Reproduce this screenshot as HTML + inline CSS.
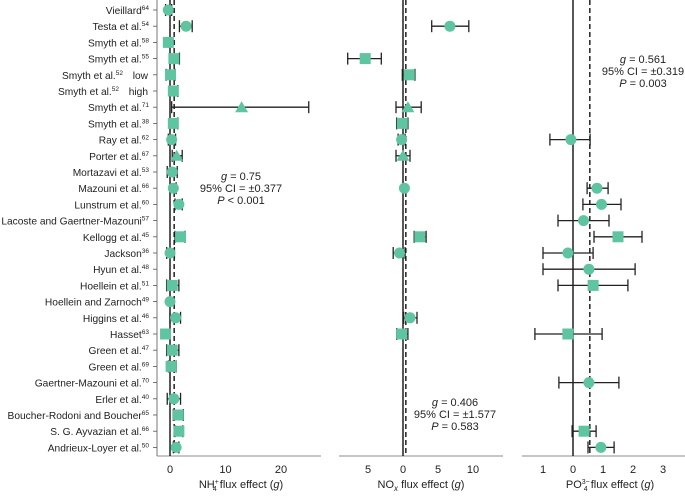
<!DOCTYPE html>
<html><head><meta charset="utf-8"><style>
body{margin:0;background:#fff;}
svg text{font-family:"Liberation Sans",sans-serif;fill:#222;}
</style></head><body>
<svg id="c" width="685" height="491" xmlns="http://www.w3.org/2000/svg"></svg>
<script>
const studies=["Vieillard|64","Testa et al.|54","Smyth et al.|58","Smyth et al.|55","Smyth et al.|52|low","Smyth et al.|52|high","Smyth et al.|71","Smyth et al.|38","Ray et al.|62","Porter et al.|67","Mortazavi et al.|53","Mazouni et al.|66","Lunstrum et al.|60","Lacoste and Gaertner-Mazouni|57","Kellogg et al.|45","Jackson|36","Hyun et al.|48","Hoellein et al.|51","Hoellein and Zarnoch|49","Higgins et al.|46","Hasset|63","Green et al.|47","Green et al.|69","Gaertner-Mazouni et al.|70","Erler et al.|40","Boucher-Rodoni and Boucher|65","S. G. Ayvazian et al.|66","Andrieux-Loyer et al.|50"];
const shapes=["c","c","s","s","s","s","t","s","c","t","c","c","c","c","s","c","c","s","c","c","s","s","s","c","c","s","s","c"];
const nhVal=[-0.3,2.9,-0.3,0.7,0.1,0.6,12.9,0.6,0.3,1.2,0.4,0.6,1.6,null,1.9,0,null,0.4,0,1.0,-0.8,0.4,0.2,null,0.7,1.5,1.6,1.1];
const nhLo=[-0.8,1.7,null,0,-0.7,0,0.3,0,-0.3,0.4,-0.5,0,0.9,null,0.9,-0.6,null,-0.6,null,0,null,-0.6,-0.3,null,-0.5,0.6,0.9,0.6];
const nhHi=[0.3,4.0,null,1.7,0.9,1.4,25.0,1.4,1.0,2.2,1.3,1.1,2.2,null,2.7,0.8,null,1.6,null,1.9,null,1.6,1.1,null,1.9,2.4,2.3,1.6];
const noVal=[null,6.7,null,-5.4,0.9,null,0.7,-0.1,-0.2,0,null,0.2,null,null,2.4,-0.5,null,null,null,1.0,-0.2,null,null,null,null,null,null,null];
const noLo=[null,4.1,null,-7.9,-0.1,null,-1,-0.9,-0.7,-1,null,null,null,null,1.6,-1.4,null,null,null,0.1,-0.9,null,null,null,null,null,null,null];
const noHi=[null,9.4,null,-3.1,1.7,null,2.6,0.7,0.3,1,null,null,null,null,3.3,0.3,null,null,null,2.0,0.7,null,null,null,null,null,null,null];
const poVal=[null,null,null,null,null,null,null,null,-0.07,null,null,0.8,0.95,0.35,1.5,-0.17,0.53,0.67,null,null,-0.17,null,null,0.53,null,null,0.37,0.93];
const poLo=[null,null,null,null,null,null,null,null,-0.77,null,null,0.47,0.33,-0.5,0.7,-1.0,-1.0,-0.5,null,null,-1.27,null,null,-0.47,null,null,-0.03,0.5];
const poHi=[null,null,null,null,null,null,null,null,0.57,null,null,1.17,1.6,1.2,2.3,0.67,2.07,1.83,null,null,0.97,null,null,1.53,null,null,0.77,1.37];
const nhTicks=[0,10,20], noTicks=[-5,0,5,10], poTicks=[-1,0,1,2,3];
const pooled=[0.75,0.406,0.561];

const svg=document.getElementById('c');const NS="http://www.w3.org/2000/svg";
function mk(t,a,p){const e=document.createElementNS(NS,t);for(const k in a)e.setAttribute(k,a[k]);(p||svg).appendChild(e);return e;}
const C="#5fc4a0";
function rowY(i){return 10+i*16.2;}
const axisY=456;
studies.forEach((s,i)=>{const p=s.split('|');const y=rowY(i);
 const t=mk('text',{x:p[2]?(p[2]==='low'?123:119):149,y:y+4,'text-anchor':'end','font-size':'10.2'});
 
 
 t.textContent=p[0];const sp=mk('tspan',{dy:-4,'font-size':'6.5'},t);sp.textContent=p[1];
 if(p[2]){const q=mk('text',{x:148,y:y+4,'text-anchor':'end','font-size':'10.2'});q.textContent=p[2];}
 mk('line',{x1:153,x2:157,y1:y,y2:y,stroke:'#555','stroke-width':0.8});
});
mk('line',{x1:157,x2:157,y1:0,y2:axisY,stroke:'#555','stroke-width':0.8});
const panels=[
 {x0:170,k:5.55,a:157,b:321,v:nhVal,lo:nhLo,hi:nhHi,ticks:nhTicks,name:'nh4',title:['NH','+','4',' flux effect (','g',')'],tx:241,stats:['0.75','±0.377','< 0.001'],sx:241,sy:180},
 {x0:403,k:7,a:339,b:503,v:noVal,lo:noLo,hi:noHi,ticks:noTicks,name:'nox',title:['NO','','x',' flux effect (','g',')'],tx:421,stats:['0.406','±1.577','= 0.583'],sx:455,sy:406},
 {x0:573,k:30,a:522,b:685,v:poVal,lo:poLo,hi:poHi,ticks:poTicks,name:'po4',title:['PO','3−','4',' flux effect (','g',')'],tx:610,stats:['0.561','±0.319','= 0.003'],sx:643,sy:63}
];
panels.forEach((P,pi)=>{
 const sx=v=>P.x0+v*P.k;
 const g=mk('g',{});
 mk('line',{x1:P.a,x2:P.b,y1:axisY,y2:axisY,stroke:'#666','stroke-width':0.8},g);
 P.ticks.forEach(t=>{const tt=mk('text',{x:sx(t),y:473,'text-anchor':'middle','font-size':'11'},g);tt.textContent=Math.abs(t);
   });
 const ti=mk('text',{x:P.tx,y:488,'text-anchor':'middle','font-size':'11'},g);
 
 let s1=mk('tspan',{},ti);s1.textContent=P.title[0];
 if(P.title[1]){let s2=mk('tspan',{dy:-4,'font-size':'7'},ti);s2.textContent=P.title[1];let s3=mk('tspan',{dy:7,dx:-6,'font-size':'7'},ti);s3.textContent=P.title[2];let s4=mk('tspan',{dy:-3},ti);s4.textContent=P.title[3];}
 else{let s3=mk('tspan',{dy:3,'font-size':'8','font-style':'italic'},ti);s3.textContent=P.title[2];let s4=mk('tspan',{dy:-3},ti);s4.textContent=P.title[3];}
 let s5=mk('tspan',{'font-style':'italic'},ti);s5.textContent=P.title[4];let s6=mk('tspan',{},ti);s6.textContent=P.title[5];
 mk('line',{x1:sx(0),x2:sx(0),y1:0,y2:axisY,stroke:'#111','stroke-width':1.4},g);
 mk('line',{x1:sx(pooled[pi]),x2:sx(pooled[pi]),y1:0,y2:axisY,stroke:'#111','stroke-width':1.4,'stroke-dasharray':'5,3'},g);
 const st=P.stats;
 [['g',' = '+st[0]],['','95% CI = '+st[1]],['P',' '+st[2]]].forEach((r,j)=>{
   const t=mk('text',{x:P.sx,y:P.sy+j*12,'text-anchor':'middle','font-size':'11'},g);
   
   if(r[0]){const a=mk('tspan',{'font-style':'italic'},t);a.textContent=r[0];}
   const b=mk('tspan',{},t);b.textContent=r[1];});
 P.v.forEach((v,i)=>{if(v===null)return;const y=rowY(i);
   if(P.lo[i]!==null){const l=sx(P.lo[i]),h=sx(P.hi[i]);
     const e=mk('g',{},g);
     mk('line',{x1:l,x2:h,y1:y,y2:y,stroke:'#222','stroke-width':1.3},e);
     mk('line',{x1:l,x2:l,y1:y-6,y2:y+6,stroke:'#222','stroke-width':1.3},e);
     mk('line',{x1:h,x2:h,y1:y-6,y2:y+6,stroke:'#222','stroke-width':1.3},e);}
   const x=sx(v);let m;
   if(shapes[i]==='c')m=mk('circle',{cx:x,cy:y,r:5.5,fill:C},g);
   else if(shapes[i]==='s')m=mk('rect',{x:x-5.5,y:y-5.5,width:11,height:11,fill:C},g);
   else m=mk('polygon',{points:`${x},${y-6} ${x-6.5},${y+5} ${x+6.5},${y+5}`,fill:C},g);
   
   
 });
});
</script>
</body></html>
